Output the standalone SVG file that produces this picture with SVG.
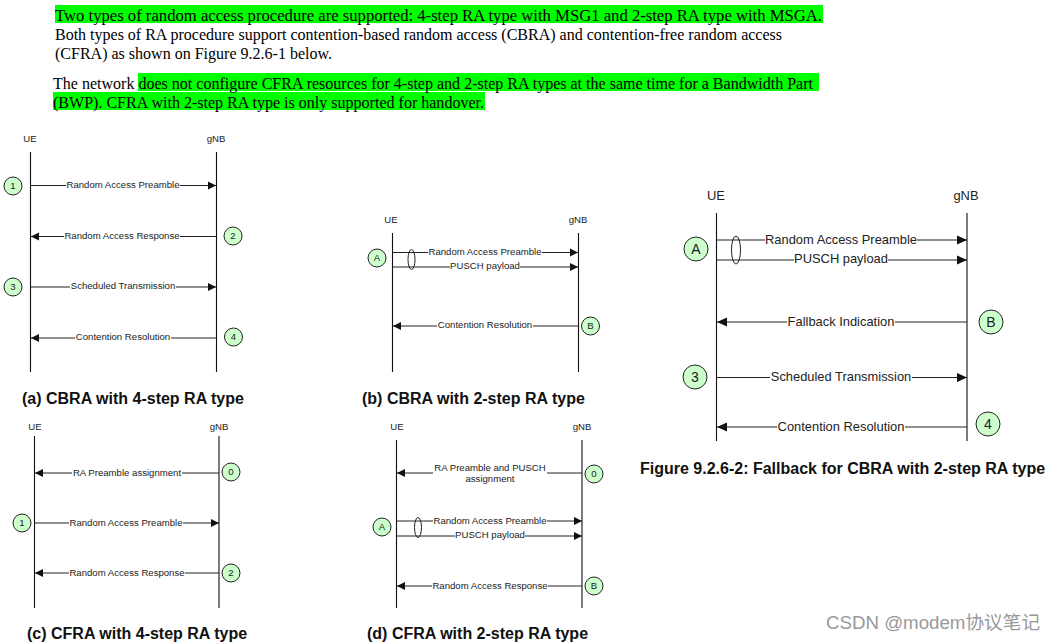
<svg xmlns="http://www.w3.org/2000/svg" width="1057" height="642" viewBox="0 0 1057 642">
<style>
text{font-family:"Liberation Sans",Arial,sans-serif;fill:#222}
.body{font-family:"Liberation Serif","Times New Roman",serif;font-size:16px;fill:#000}
.hl{fill:#00ff00}
.life{stroke:#111;stroke-width:1.1;fill:none}
.msg{stroke:#222;stroke-width:1;fill:none}
.m{font-size:9.6px;text-anchor:middle}
.M{font-size:12.9px;text-anchor:middle}
.h{font-size:9.6px;text-anchor:middle}
.H{font-size:12.9px;text-anchor:middle}
.c{fill:#ccffcc;stroke:#222;stroke-width:1}
.n{font-size:9.6px;text-anchor:middle}
.N{font-size:14px;text-anchor:middle}
.cap{font-size:16px;font-weight:bold;fill:#111}
.e{fill:none;stroke:#222;stroke-width:1}
.wm{font-family:"Liberation Sans","Noto Sans CJK SC",sans-serif;font-size:18.7px;fill:#999}
</style>
<defs>
<marker id="a" markerUnits="userSpaceOnUse" markerWidth="9" markerHeight="9" refX="8" refY="4.500" orient="auto"><path d="M0 0.500L8 4.500L0 8.500z" fill="#111"/></marker>
<marker id="b" markerUnits="userSpaceOnUse" markerWidth="11" markerHeight="11" refX="10" refY="5.500" orient="auto"><path d="M0 1L10 5.500L0 10z" fill="#111"/></marker>
</defs>
<g id="intro-text">
<rect class="hl" x="55" y="5" width="768" height="18"/>
<rect class="hl" x="138" y="73" width="681" height="18"/>
<rect class="hl" x="53" y="92" width="432" height="18"/>
<text class="body" x="55" y="20.500" textLength="767" lengthAdjust="spacingAndGlyphs">Two types of random access procedure are supported: 4-step RA type with MSG1 and 2-step RA type with MSGA.</text>
<text class="body" x="55" y="39.500" textLength="727" lengthAdjust="spacingAndGlyphs">Both types of RA procedure support contention-based random access (CBRA) and contention-free random access</text>
<text class="body" x="55" y="58.500" textLength="277" lengthAdjust="spacingAndGlyphs">(CFRA) as shown on Figure 9.2.6-1 below.</text>
<text class="body" x="53" y="88.500" textLength="760" lengthAdjust="spacingAndGlyphs">The network does not configure CFRA resources for 4-step and 2-step RA types at the same time for a Bandwidth Part</text>
<text class="body" x="53" y="107.500" textLength="431" lengthAdjust="spacingAndGlyphs">(BWP). CFRA with 2-step RA type is only supported for handover.</text>
</g>
<g id="connectors">
<path class="life" d="M30.500 152V372M216.500 152V372M392.500 233V372M578.500 233V372M716.500 213V441M967 213V441M34.500 436V608M219 436V608M396.500 440V608M582 440V608"/>
<path class="msg" marker-end="url(#a)" d="M31 185.500H66M180 185.500H216"/>
<path class="msg" marker-end="url(#a)" d="M216 236.500H180M64 236.500H31"/>
<path class="msg" marker-end="url(#a)" d="M31 287H70M176 287H216"/>
<path class="msg" marker-end="url(#a)" d="M216 338H171M75 338H31"/>
<path class="msg" marker-end="url(#a)" d="M393 252.500H428M542 252.500H578"/>
<path class="msg" marker-end="url(#a)" d="M393 267H450M520 267H578"/>
<path class="msg" marker-end="url(#a)" d="M578 326H533M437 326H393"/>
<path class="msg" marker-end="url(#b)" d="M717 240H765M917 240H967"/>
<path class="msg" marker-end="url(#b)" d="M717 260H794M888 260H967"/>
<path class="msg" marker-end="url(#b)" d="M967 322H895M787 322H717"/>
<path class="msg" marker-end="url(#b)" d="M717 377.500H770M912 377.500H967"/>
<path class="msg" marker-end="url(#b)" d="M967 427H905M777 427H717"/>
<path class="msg" marker-end="url(#a)" d="M219 473H182M72 473H35"/>
<path class="msg" marker-end="url(#a)" d="M35 523H69M183 523H219"/>
<path class="msg" marker-end="url(#a)" d="M219 573H185M69 573H35"/>
<path class="msg" marker-end="url(#a)" d="M582 473H547M433 473H397"/>
<path class="msg" marker-end="url(#a)" d="M397 521H433M547 521H582"/>
<path class="msg" marker-end="url(#a)" d="M397 536H455M525 536H582"/>
<path class="msg" marker-end="url(#a)" d="M582 586H548M432 586H397"/>
<ellipse class="e" cx="411.500" cy="259.500" rx="3.500" ry="10"/>
<ellipse class="e" cx="736" cy="250" rx="4.500" ry="14"/>
<ellipse class="e" cx="418" cy="527.500" rx="3.500" ry="10"/>
</g>
<g id="panel-a">
<text class="h" x="30" y="142">UE</text><text class="h" x="216" y="142">gNB</text>
<text class="m" x="123" y="188">Random Access Preamble</text>
<text class="m" x="122" y="239">Random Access Response</text>
<text class="m" x="123" y="289">Scheduled Transmission</text>
<text class="m" x="123" y="340">Contention Resolution</text>
<text class="cap" x="22" y="404">(a) CBRA with 4-step RA type</text>
</g>
<g id="a1"><circle class="c" cx="13" cy="186" r="9"/><text class="n" x="13" y="189">1</text></g>
<g id="a2"><circle class="c" cx="233" cy="236" r="9"/><text class="n" x="233" y="239">2</text></g>
<g id="a3"><circle class="c" cx="13" cy="287" r="9"/><text class="n" x="13" y="290">3</text></g>
<g id="a4"><circle class="c" cx="233.500" cy="337" r="9"/><text class="n" x="233.500" y="340">4</text></g>
<g id="panel-b">
<text class="h" x="391" y="223">UE</text><text class="h" x="578" y="223">gNB</text>
<text class="m" x="485" y="255">Random Access Preamble</text>
<text class="m" x="485" y="269">PUSCH payload</text>
<text class="m" x="485" y="328">Contention Resolution</text>
<text class="cap" x="362" y="404">(b) CBRA with 2-step RA type</text>
</g>
<g id="bA"><circle class="c" cx="377" cy="258" r="9"/><text class="n" x="377" y="261">A</text></g>
<g id="bB"><circle class="c" cx="590.500" cy="326" r="9"/><text class="n" x="590.500" y="329">B</text></g>
<g id="panel-right">
<text class="H" x="716" y="200">UE</text><text class="H" x="966" y="200">gNB</text>
<text class="M" x="841" y="244">Random Access Preamble</text>
<text class="M" x="841" y="263">PUSCH payload</text>
<text class="M" x="841" y="326">Fallback Indication</text>
<text class="M" x="841" y="381">Scheduled Transmission</text>
<text class="M" x="841" y="431">Contention Resolution</text>
<text class="cap" x="640" y="474">Figure 9.2.6-2: Fallback for CBRA with 2-step RA type</text>
</g>
<g id="rA"><circle class="c" cx="696" cy="249" r="12"/><text class="N" x="696" y="254">A</text></g>
<g id="rB"><circle class="c" cx="991" cy="322" r="12"/><text class="N" x="991" y="327">B</text></g>
<g id="r3"><circle class="c" cx="695" cy="377" r="12"/><text class="N" x="695" y="382">3</text></g>
<g id="r4"><circle class="c" cx="988" cy="424" r="12"/><text class="N" x="988" y="429">4</text></g>
<g id="panel-c">
<text class="h" x="35" y="430">UE</text><text class="h" x="219" y="430">gNB</text>
<text class="m" x="127" y="476">RA Preamble assignment</text>
<text class="m" x="126" y="526">Random Access Preamble</text>
<text class="m" x="127" y="576">Random Access Response</text>
<text class="cap" x="27" y="639">(c) CFRA with 4-step RA type</text>
</g>
<g id="c0"><circle class="c" cx="231" cy="472" r="9"/><text class="n" x="231" y="475">0</text></g>
<g id="c1"><circle class="c" cx="22" cy="523" r="9"/><text class="n" x="22" y="526">1</text></g>
<g id="c2"><circle class="c" cx="231" cy="573" r="9"/><text class="n" x="231" y="576">2</text></g>
<g id="panel-d">
<text class="h" x="397" y="430">UE</text><text class="h" x="582" y="430">gNB</text>
<text class="m" x="490" y="471">RA Preamble and PUSCH</text>
<text class="m" x="490" y="482">assignment</text>
<text class="m" x="490" y="524">Random Access Preamble</text>
<text class="m" x="490" y="538">PUSCH payload</text>
<text class="m" x="490" y="589">Random Access Response</text>
<text class="cap" x="367" y="639">(d) CFRA with 2-step RA type</text>
</g>
<g id="d0"><circle class="c" cx="594" cy="474" r="9"/><text class="n" x="594" y="477">0</text></g>
<g id="dA"><circle class="c" cx="382" cy="527" r="9"/><text class="n" x="382" y="530">A</text></g>
<g id="dB"><circle class="c" cx="594" cy="586" r="9"/><text class="n" x="594" y="589">B</text></g>
<text class="wm" x="826" y="629">CSDN @modem协议笔记</text>
</svg>
